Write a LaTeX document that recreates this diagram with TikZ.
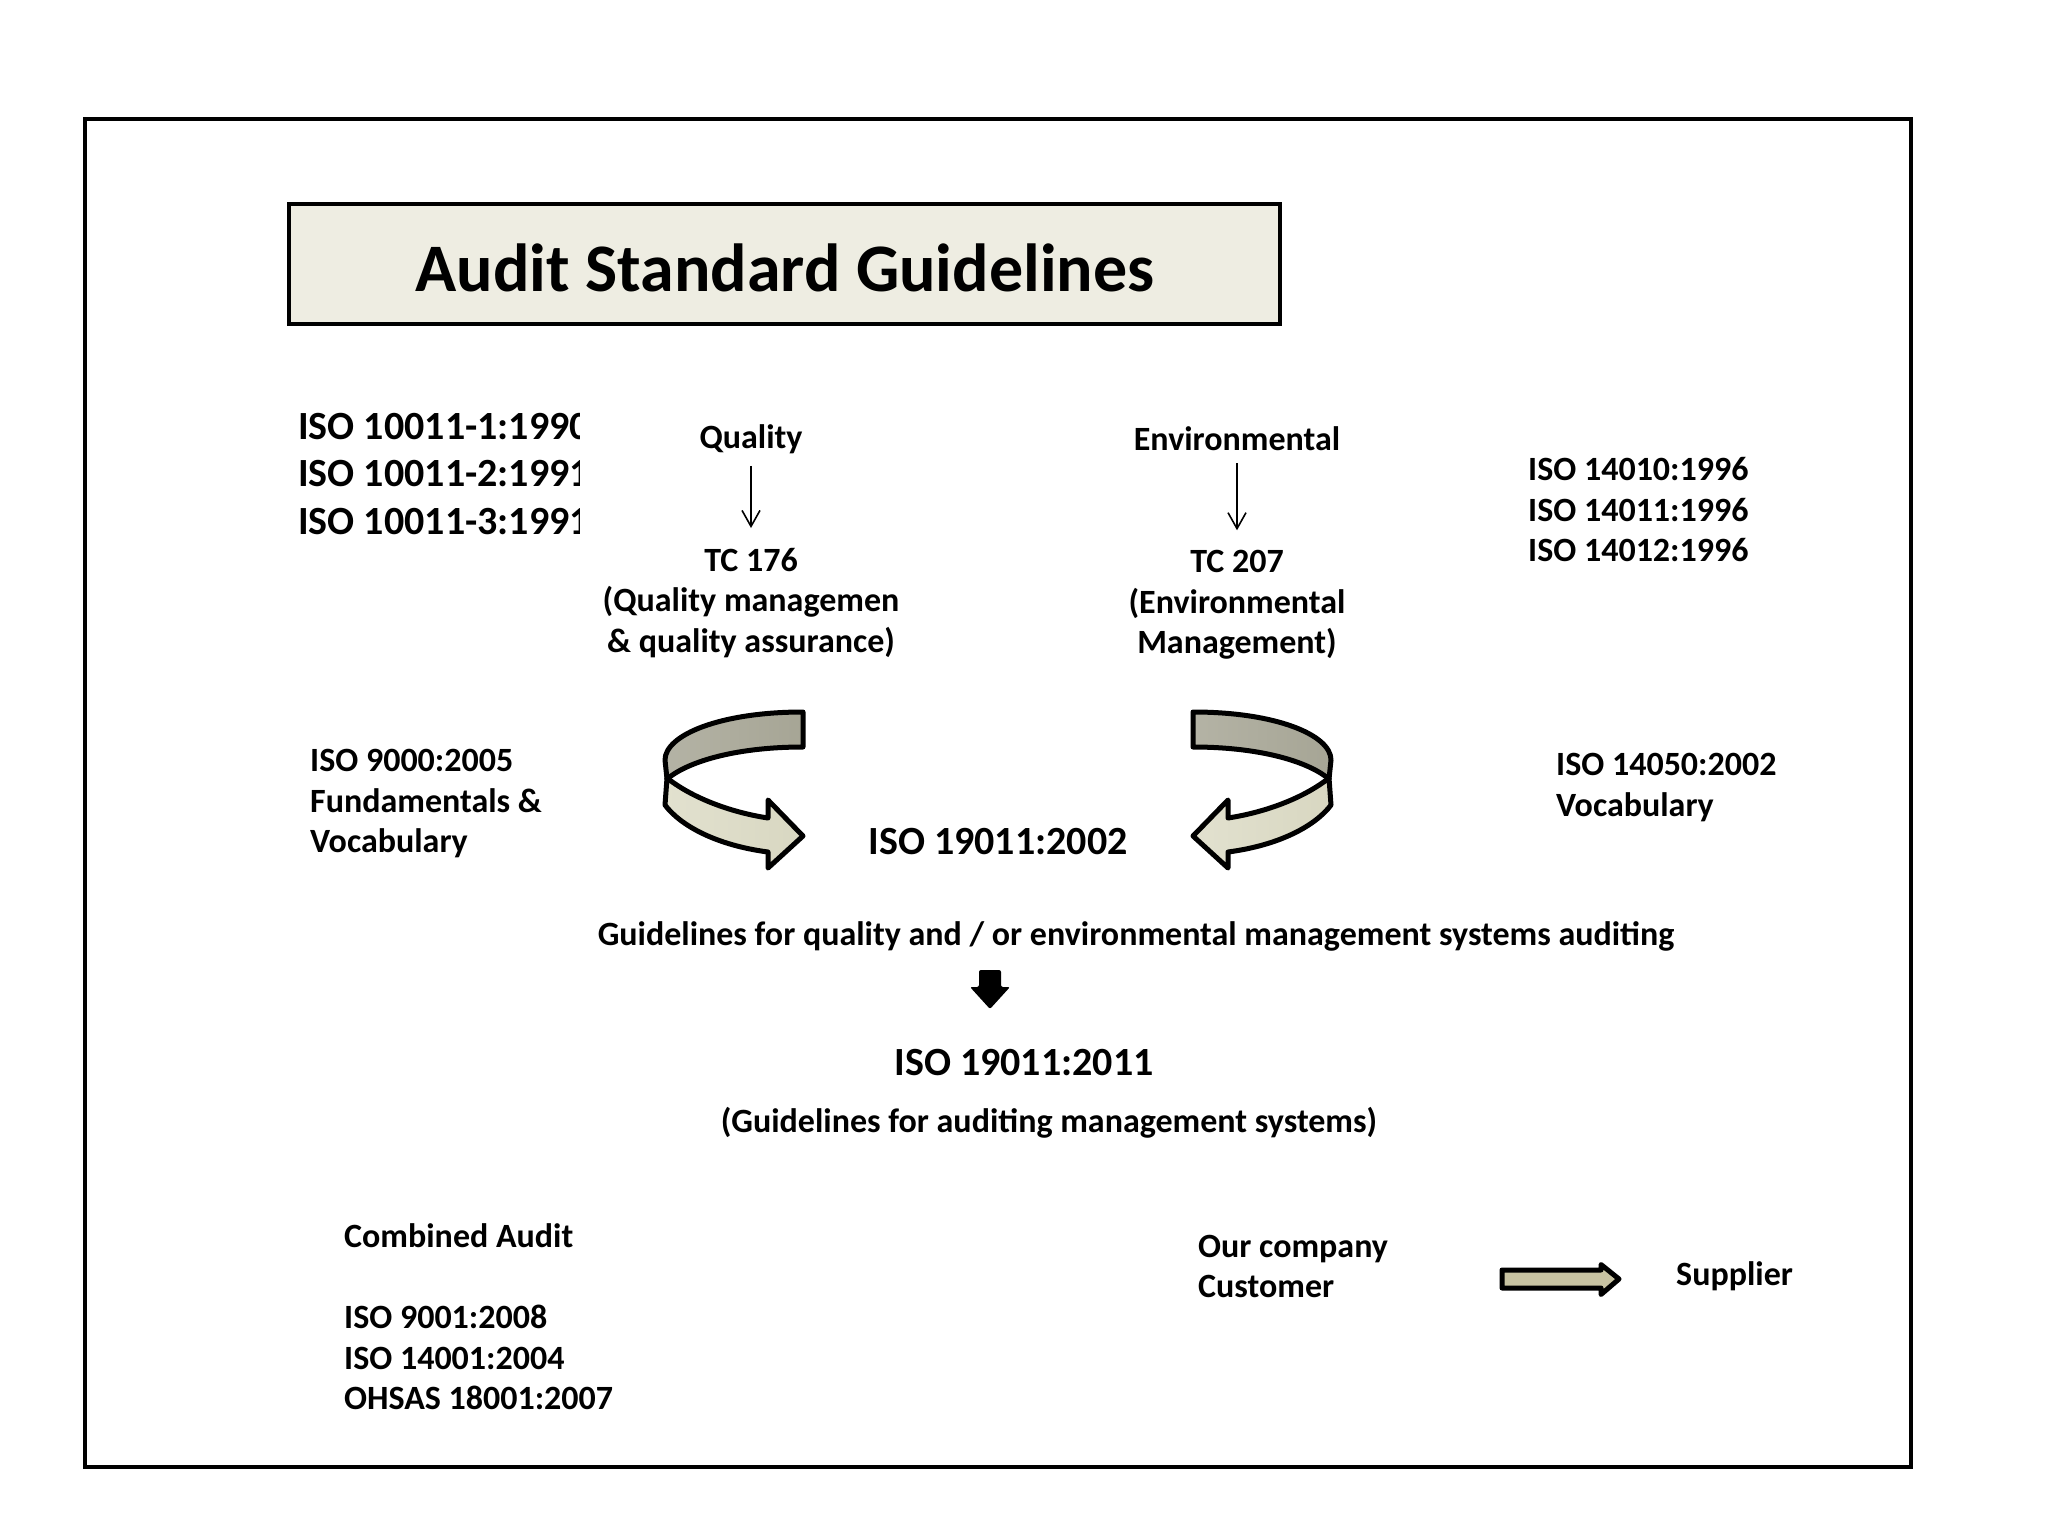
\documentclass[tikz,border=0pt]{standalone}
\usepackage{fontspec}
\setmainfont{Carlito}
\usetikzlibrary{arrows.meta}
\definecolor{titlefill}{HTML}{EEEDE2}
\definecolor{backL}{HTML}{B4B3A5}
\definecolor{backR}{HTML}{A6A595}
\definecolor{frontL}{HTML}{E2E1CF}
\definecolor{frontR}{HTML}{D8D7C1}
\definecolor{khaki}{HTML}{C8C3A2}
\tikzset{
  txt/.style={font=\bfseries\fontsize{34}{40.5}\selectfont, inner sep=0pt, align=left},
  txtc/.style={txt, align=center},
  big/.style={font=\bfseries\fontsize{40}{47.5}\selectfont, inner sep=0pt, align=left},
  band/.style={draw=black, line width=5pt, line join=round},
  thinarrow/.style={line width=1.6pt, -{Straight Barb[length=16pt,width=18pt,line width=1.6pt]}, shorten <=12pt, shorten >=20pt},
  turnarrow/.pic={
    \draw[band, left color=backL, right color=backR]
      (803,712) .. controls (720,712) and (665,735) .. (665,760)
      -- (667,779) .. controls (690,760) and (740,747) .. (803,747) -- cycle;
    \draw[band, left color=frontL, right color=frontR]
      (667,778) .. controls (695,800) and (735,813) .. (768,818)
      -- (768,800) -- (803,836) -- (768,868) -- (768,852)
      .. controls (715,845) and (680,825) .. (665,805) -- cycle;
  }
}
\begin{document}
\begin{tikzpicture}[x=1pt,y=-1pt]
\useasboundingbox (0,0) rectangle (2048,1536);
\fill[white] (0,0) rectangle (2048,1536);
% outer frame
\draw[line width=4pt] (85,119) rectangle (1911,1467);
% title
\node (title) [draw, line width=4pt, fill=titlefill, minimum width=991pt, minimum height=120pt] at (784.5,264) {};
\node (titletext) [font=\bfseries\fontsize{68}{80}\selectfont, inner sep=0pt] at (785,268) {Audit Standard Guidelines};
% clipped ISO 10011 list
\begin{scope}
  \clip (280,380) rectangle (579,560);
  \node (iso10011) [big, anchor=west] at (298,474) {ISO 10011-1:1990\\ISO 10011-2:1991\\ISO 10011-3:1991};
\end{scope}
% quality branch
\node (quality) [txtc] at (751,439) {Quality};
\node (tc176) [txtc] at (751,603) {TC 176\\(Quality managemen\\\& quality assurance)};
\draw[thinarrow] (quality) -- (tc176);
% environmental branch
\node (env) [txtc] at (1237,439) {Environmental};
\node (tc207) [txtc] at (1237,605) {TC 207\\(Environmental\\Management)};
\draw[thinarrow] (env) -- (tc207);
% right list
\node (iso140xx) [txt, anchor=west] at (1528,510) {ISO 14010:1996\\ISO 14011:1996\\ISO 14012:1996};
% side vocab blocks
\node (iso9000) [txt, anchor=west] at (310,804) {ISO 9000:2005\\Fundamentals \&\\Vocabulary};
\node (iso14050) [txt, anchor=west] at (1556,787.5) {ISO 14050:2002\\Vocabulary};
% curved arrows
\pic at (0,0) {turnarrow};
\pic[xscale=-1] at (1996,0) {turnarrow};
% central
\node (iso2002) [big] at (998,842) {ISO 19011:2002};
\node (guide) [txt] at (1136,936) {Guidelines for quality and / or environmental management systems auditing};
\fill[rounded corners=2pt] (979,970) -- (1001,970) -- (1001,987) -- (1010,987) -- (990,1009) -- (970,987) -- (979,987) -- cycle;
\node (iso2011) [big] at (1024,1063) {ISO 19011:2011};
\node (guide2) [txt] at (1049,1123) {(Guidelines for auditing management systems)};
% bottom
\node (combined) [txt, anchor=west] at (344,1317) {Combined Audit\\[40.5pt]ISO 9001:2008\\ISO 14001:2004\\OHSAS 18001:2007};
\node (company) [txt, anchor=west] at (1198,1266.5) {Our company\\Customer};
\node (supplier) [txt, anchor=west] at (1676,1276) {Supplier};
\draw[line width=5pt, line join=round, fill=khaki] (1502,1270) -- (1601,1270) -- (1601,1264.5) -- (1619,1279) -- (1601,1294.5) -- (1601,1288) -- (1502,1288) -- cycle;
\end{tikzpicture}
\end{document}
